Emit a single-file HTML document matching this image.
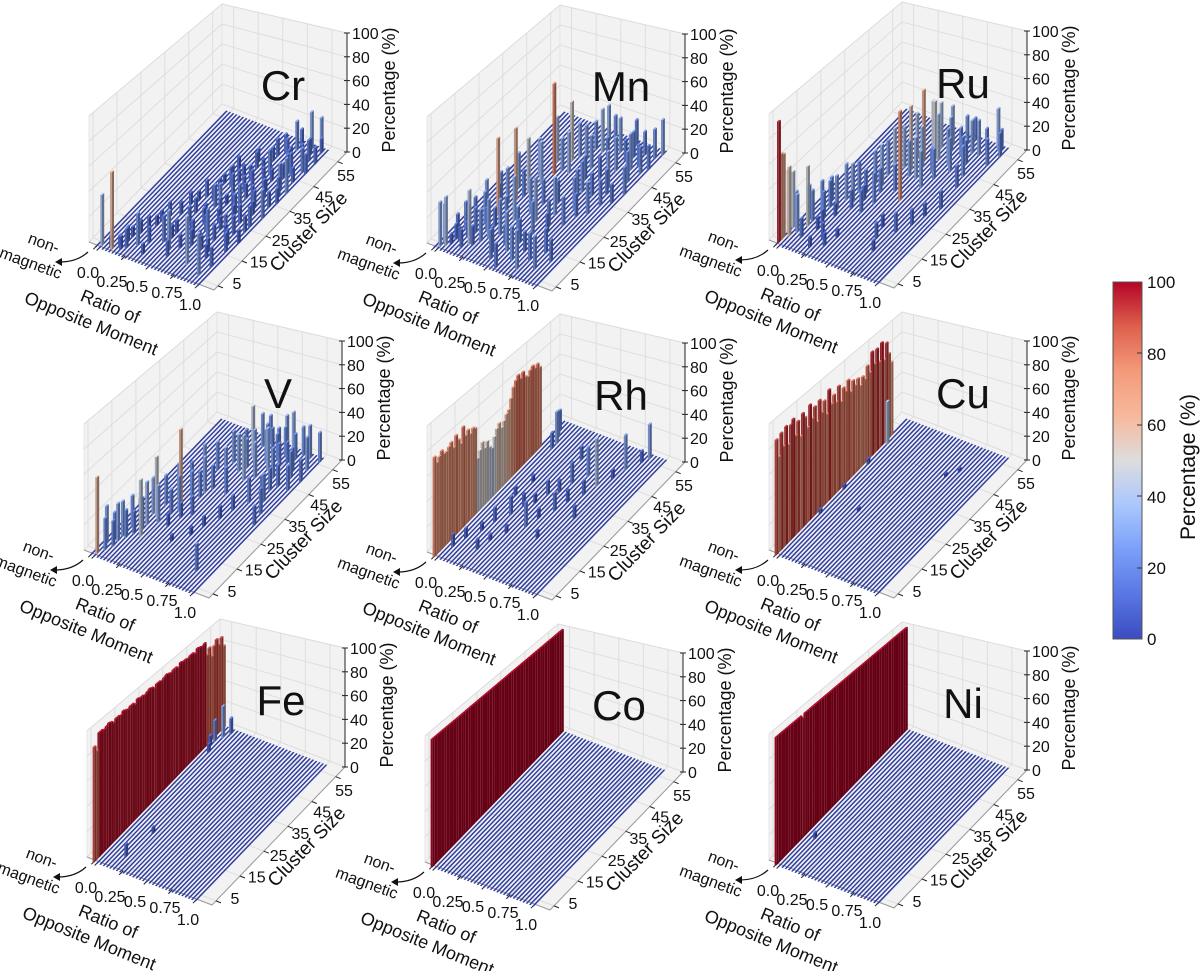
<!DOCTYPE html>
<html><head><meta charset="utf-8">
<style>
html,body{margin:0;padding:0;background:#fff;}
svg{display:block;font-family:"Liberation Sans",Arial,sans-serif;}
</style></head>
<body>
<svg id="fig" width="1200" height="971" viewBox="0 0 1200 971" xmlns="http://www.w3.org/2000/svg">
<defs>
<linearGradient id="cbgrad" x1="0" y1="1" x2="0" y2="0">
<stop offset="0" stop-color="#3b4cc0"/><stop offset="0.125" stop-color="#5977e3"/><stop offset="0.25" stop-color="#7b9ff9"/><stop offset="0.375" stop-color="#aac7fd"/><stop offset="0.5" stop-color="#dddddd"/><stop offset="0.625" stop-color="#f7b89c"/><stop offset="0.75" stop-color="#f49a7b"/><stop offset="0.875" stop-color="#de604d"/><stop offset="1" stop-color="#b40426"/>
</linearGradient>
</defs>
<g>
<rect x="1113" y="282" width="29" height="357" fill="url(#cbgrad)" stroke="#555" stroke-width="1"/>
<g font-size="17" fill="#111">
<text x="1147" y="288">100</text>
<text x="1147" y="360">80</text>
<text x="1147" y="431">60</text>
<text x="1147" y="503">40</text>
<text x="1147" y="574">20</text>
<text x="1147" y="645">0</text>
</g>
<g stroke="#333" stroke-width="1">
<line x1="1137" y1="353" x2="1142" y2="353"/><line x1="1137" y1="425" x2="1142" y2="425"/><line x1="1137" y1="496" x2="1142" y2="496"/><line x1="1137" y1="568" x2="1142" y2="568"/>
</g>
<text x="1195" y="467" font-size="21" fill="#111" text-anchor="middle" transform="rotate(-90 1195 467)">Percentage (%)</text>
</g>
</svg>
<script>
// ---------- data (k = ratio index: 0 = non-magnetic, 1..41 = ratio 0.0..1.0 step 0.025; s = cluster size; v = percentage) ----------
const sizes = [3,4,5,6,7,8,9,10,11,12,13,14,15,16,17,18,19,20,21,22,23,24,25,26,27,28,29,30,31,32,33,34,35,36,37,38,39,40,41,42,43,44,45,46,47,48,49,50,51,52,53,54,55,56,57];
const ratioTicks = ["0.0","0.25","0.5","0.75","1.0"];
const sizeTicks = [5,15,25,35,45,55];
const zTicks = [0,20,40,60,80,100];
const panelNames = ["Cr","Mn","Ru","V","Rh","Cu","Fe","Co","Ni"];

const crBars = [[1,4,40],[5,4,60],[3,5,8],[7,5,10],[9,6,15],[12,8,25],[14,10,12],[16,6,8],[18,12,20],[20,14,10],[22,10,30],[24,8,12],[26,16,15],[28,12,8],[30,18,22],[32,8,35],[34,14,10],[36,20,18],[38,6,30],[40,10,14],[20,24,12],[24,28,18],[26,30,8],[28,26,25],[30,34,12],[32,30,20],[34,38,10],[36,36,15],[38,40,22],[40,44,12],[16,22,10],[18,30,14],[22,36,16],[26,40,12],[30,44,20],[34,48,15],[38,52,18],[40,56,30],[36,56,32],[32,54,25],[28,50,15],[24,46,12],[20,42,10],[41,52,14],[37,46,18],[33,42,10],[29,38,14],[25,34,16],[21,30,10],[39,34,12],[35,26,14],[31,22,10],[27,20,12],[23,18,8],[40,26,16],[38,18,12],[36,12,10],[12,18,8],[10,14,10],[8,10,8],[41,40,28],[39,48,20],[35,52,12],[31,50,18],[27,44,10],[41,30,22],[33,34,12],[29,30,10],
[19,16,10],[21,20,14],[23,24,10],[25,22,12],[27,26,14],[29,24,10],[31,28,16],[33,26,12],[35,32,14],[37,30,10],[39,38,16],[41,36,12],[19,34,8],[21,38,12],[23,40,10],[25,44,14],[27,48,12],[29,52,16],[31,56,14],[33,50,12],[35,46,16],[37,54,14],[39,56,12],[41,48,16],[17,28,8],[15,26,10],[13,20,12],[11,16,8],[9,12,10],[7,8,12],[6,6,8],[25,12,10],[27,14,12],[29,16,8],[31,14,10],[33,18,12],[35,20,10],[37,22,14],[39,24,12],[41,20,10],[40,16,14],[36,44,12],[32,40,14],[28,36,12],[24,38,10],[20,36,8]];
const mnBars = [[1,4,35],[2,5,38],[1,6,30],[4,6,8],[5,8,10],[6,10,12],[7,6,14],[8,12,20],[9,8,42],[10,14,18],[11,10,25],[12,16,15],[13,12,30],[14,18,22],[15,14,28],[16,20,35],[9,20,62],[10,26,60],[14,38,78],[16,44,52],[12,30,45],[18,8,20],[20,6,22],[22,10,30],[24,4,18],[26,8,25],[28,12,15],[30,6,28],[32,10,20],[34,14,18],[36,8,24],[38,12,16],[18,24,28],[20,28,20],[22,22,35],[24,30,18],[26,26,30],[28,34,22],[30,30,25],[32,36,18],[34,40,30],[36,38,20],[38,44,25],[40,48,22],[18,40,35],[20,46,30],[22,50,38],[24,54,25],[26,48,20],[28,52,30],[30,56,22],[32,50,18],[36,54,20],[41,56,30],[6,24,25],[8,30,30],[4,16,18],[2,10,15],[12,42,40],[10,36,32],
[3,8,12],[5,12,20],[7,16,25],[9,24,30],[11,28,22],[13,34,35],[15,40,28],[17,46,30],[19,50,25],[21,54,32],[23,44,28],[25,40,20],[27,36,25],[29,42,18],[31,46,28],[33,52,22],[35,48,30],[37,50,18],[39,54,25],[41,50,20],[19,12,15],[21,16,22],[23,14,18],[25,18,25],[27,22,20],[29,20,15],[31,24,22],[33,28,18],[35,30,25],[37,34,20],[39,36,15],[41,40,22],[6,18,30],[8,22,20],[10,8,15],[4,12,22]];
const ruBars = [[0,4,95],[0,5,68],[0,6,66],[1,7,55],[0,8,50],[0,10,45],[3,12,48],[2,9,30],[4,14,25],[5,8,15],[6,16,22],[8,12,10],[10,6,8],[12,10,12],[14,8,10],[16,12,6],[8,20,28],[10,24,32],[12,28,20],[14,32,35],[16,36,42],[18,40,55],[20,44,62],[22,46,50],[24,30,72],[19,48,45],[21,50,40],[23,52,35],[26,36,30],[28,40,25],[30,44,28],[32,48,22],[34,52,30],[36,54,20],[38,56,35],[40,56,18],[26,20,10],[28,16,12],[30,12,8],[32,20,15],[34,24,12],[36,28,10],[38,32,14],[15,22,18],[17,26,25],[25,42,20],[27,46,30],[29,50,24],[6,28,15],[4,22,20],[20,32,22],[22,38,35],
[1,10,30],[2,14,28],[3,18,25],[5,20,22],[7,24,30],[9,28,25],[11,32,28],[13,36,30],[15,40,35],[17,44,40],[19,38,30],[21,42,35],[23,46,40],[25,50,30],[27,54,25],[29,56,20],[31,52,28],[33,48,20],[35,44,25],[37,40,18],[39,50,22],[41,54,20],[7,14,12],[9,18,10],[11,22,15],[13,26,12],[15,30,20]];
const vBars = [[1,4,60],[12,28,62],[8,22,48],[9,14,45],[20,50,45],[2,6,25],[3,8,20],[4,10,30],[5,12,22],[6,14,18],[7,16,26],[8,18,35],[10,20,30],[11,24,20],[13,26,28],[14,30,25],[15,32,22],[16,34,30],[17,36,20],[18,40,28],[19,44,32],[21,46,25],[22,48,30],[24,52,28],[26,54,22],[28,56,30],[30,50,20],[32,46,25],[34,42,18],[36,38,22],[38,34,20],[40,30,15],[41,56,25],[39,52,28],[37,48,22],[35,44,18],[33,40,15],[31,36,20],[29,32,12],[27,28,10],[25,24,8],[23,20,6],[20,16,5],[36,10,20],[18,26,15],[22,36,22],[26,44,30],[30,56,35],[34,56,25],[24,42,38],[28,48,35],
[1,8,30],[2,10,22],[3,12,28],[4,16,25],[5,18,20],[6,22,30],[7,26,25],[9,30,28],[10,34,22],[11,38,30],[13,42,25],[15,46,28],[17,50,22],[19,54,30],[21,56,25],[23,54,20],[25,50,28],[27,52,22],[29,54,25],[31,52,18],[33,54,22],[35,50,20],[37,56,28],[39,44,20],[41,48,18],[14,20,10],[16,24,12]];
const rhWall = [78,72,75,78,74,74,76,78,72,80,75,70,82,73,76,71,74,72,45,50,55,48,52,45,42,50,55,58,52,56,60,62,70,78,82,85,80,84,78,76,80,82,78,80,75,0,0,0,0,0,0,0,0,0,0];
const rhBars = [[2,8,10],[4,12,8],[6,16,6],[8,20,12],[10,24,15],[12,28,10],[14,30,8],[16,34,12],[18,22,20],[20,26,8],[22,30,15],[24,34,10],[26,38,12],[28,42,40],[30,46,8],[32,50,30],[34,54,10],[36,56,30],[22,44,25],[20,40,18],[18,36,10],[14,18,6],[12,14,5],[10,10,8],[25,20,6],[30,30,10],[16,48,12],[6,30,8],[8,36,6],[3,50,30],[2,52,25],[1,54,20],[4,48,15]];
const cuWall = [90,75,92,80,94,78,92,95,80,90,76,93,88,78,95,82,90,76,92,80,88,75,94,80,86,78,90,75,85,80,88,76,84,78,82,74,80,76,86,78,95,82,94,80,96,78,92,80,70,0,0,0,0,0,0];
const cuBars = [[1,48,40],[12,25,3],[28,45,3],[30,48,3],[1,40,5],[1,30,4],[1,20,4]];
const feWall = [90,85,98,98,97,98,99,98,96,98,98,97,99,98,97,98,98,96,99,98,98,97,98,99,98,96,98,98,97,98,99,98,97,98,98,96,99,98,98,97,98,98,96,99,98,97,98,85,90,80,88,92,85,90,80];
const feBars = [[1,52,20],[2,54,30],[3,56,15],[1,50,10],[8,8,10],[9,18,5],[2,48,8]];
const coWall = [100,100,100,100,100,100,100,100,100,100,100,100,100,100,100,100,100,100,100,100,100,100,100,100,100,100,100,100,100,100,100,100,100,100,100,100,100,100,100,100,100,100,100,100,100,100,100,100,100,100,100,100,100,100,100];
const coBars = [];
const niWall = [100,100,100,100,100,100,100,100,100,100,100,97,100,100,100,100,100,100,100,100,100,100,100,100,100,100,100,100,100,100,100,100,100,100,100,100,100,100,100,100,100,100,100,100,100,100,100,100,100,100,100,100,100,100,100];
const niBars = [[4,15,5]];
const emptyWall = [];

const panelWalls = [emptyWall,emptyWall,emptyWall,emptyWall,rhWall,cuWall,feWall,coWall,niWall];
const panelBars = [crBars,mnBars,ruBars,vBars,rhBars,cuBars,feBars,coBars,niBars];

// ---------- geometry ----------
const NS = "http://www.w3.org/2000/svg";
const svg = document.getElementById('fig');
const corners = [[347,152],[685,153],[1027,150],[342,460],[685,462],[1027,460],[345,767],[683,772],[1027,770]];
const EX = [125,48], EY = [133,-138], ZH = 119;
const NB = 31;               // drawn ratio bins (excluding non-magnetic)
const DU = 0.0262, DV = 0.018, BW = 0.0135, SW = 0.012, BD = 0.0165;
function binOf(k){ return k===0 ? 0 : 1 + Math.round((k-1)*(NB-1)/40); }
function uBin(b){ return 0.067 + b*DU; }
function uOf(k){ return uBin(binOf(k)); }
function vOfSize(s){ return 0.03 + (s-5)*DV; }
function uOfRatio(r){ return 0.067 + (1 + r*(NB-1))*DU; }

const cmapStops = [[0,[59,76,192]],[0.125,[89,119,227]],[0.25,[123,159,249]],[0.375,[170,199,253]],[0.5,[221,221,221]],[0.625,[247,184,156]],[0.75,[244,154,123]],[0.875,[222,96,77]],[1,[180,4,38]]];
function cmap(t){
  t=Math.max(0,Math.min(1,t));
  for(let i=1;i<cmapStops.length;i++){
    if(t<=cmapStops[i][0]){
      const a=cmapStops[i-1],b=cmapStops[i],f=(t-a[0])/(b[0]-a[0]);
      return a[1].map((c,j)=>c+(b[1][j]-c)*f);
    }
  }
  return cmapStops[cmapStops.length-1][1];
}
function rgb(c,m){ return 'rgb('+c.map(x=>Math.round(Math.min(255,x*m))).join(',')+')'; }

function mk(tag, attrs, parent){
  const e=document.createElementNS(NS,tag);
  for(const k in attrs) e.setAttribute(k,attrs[k]);
  parent.appendChild(e); return e;
}

panelNames.forEach((name,pi)=>{
  const C = corners[pi];
  const A = [C[0]-EX[0]-EY[0], C[1]-EX[1]-EY[1]];
  function P(u,v,z){
    const sc = 1.06 + 0.16*u - 0.22*v;
    return [A[0]+u*EX[0]+v*EY[0], A[1]+u*EX[1]+v*EY[1] - z/100*ZH*sc];
  }
  function pts(arr){ return arr.map(p=>{const q=P(p[0],p[1],p[2]);return q[0].toFixed(1)+','+q[1].toFixed(1);}).join(' '); }
  const g = mk('g',{},svg);
  
  

  const pane = {fill:'#f2f2f2', stroke:'#e2e2e2','stroke-width':'0.8'};
  const lw = mk('polygon',Object.assign({points:pts([[0,0,0],[0,1,0],[0,1,100],[0,0,100]])},pane),g);
  
  
  const bw = mk('polygon',Object.assign({points:pts([[0,1,0],[1,1,0],[1,1,100],[0,1,100]])},pane),g);
  
  
  const fl = mk('polygon',Object.assign({points:pts([[0,0,0],[1,0,0],[1,1,0],[0,1,0]])},pane),g);
  
  

  const grid = mk('g',{stroke:'#dcdcdc','stroke-width':'0.9',fill:'none'},g);
  
  
  const uTicks = ratioTicks.map(t=>uOfRatio(parseFloat(t)));
  const vTicks = sizeTicks.map(s=>vOfSize(s));
  uTicks.forEach(u=>{ mk('polyline',{points:pts([[u,0,0],[u,1,0],[u,1,100]])},grid); });
  vTicks.forEach(v=>{ mk('polyline',{points:pts([[1,v,0],[0,v,0],[0,v,100]])},grid); });
  zTicks.forEach(z=>{ mk('polyline',{points:pts([[0,0,z],[0,1,z],[1,1,z]])},grid); });

  const ax = mk('g',{stroke:'#222','stroke-width':'1',fill:'none'},g);
  
  
  mk('polyline',{points:pts([[0,0,0],[1,0,0],[1,1,0]]),stroke:'#999'},ax);
  mk('polyline',{points:pts([[1,1,0],[1,1,100]])},ax);
  [uBin(0)].concat(uTicks).forEach(u=>{ const a=P(u,0,0); mk('line',{x1:a[0],y1:a[1],x2:a[0]-4,y2:a[1]+4},ax); });
  vTicks.forEach(v=>{ const a=P(1,v,0); mk('line',{x1:a[0],y1:a[1],x2:a[0]+5,y2:a[1]+2},ax); });
  zTicks.forEach(z=>{ const a=P(1,1,z); mk('line',{x1:a[0]-3,y1:a[1],x2:a[0]+3,y2:a[1]},ax); });

  const st = mk('g',{fill:'#2e3c9e'},g);
  
  
  const v0 = vOfSize(sizes[0])-BD/2, v1 = vOfSize(sizes[sizes.length-1])+BD/2;
  for(let b=0;b<=NB;b++){
    const u0=uBin(b)-SW/2,u1=u0+SW;
    const sp = mk('polygon',{points:pts([[u0,v0,0],[u1,v0,0],[u1,v1,0],[u0,v1,0]])},st);
    
    
  }

  const list=[];
  panelWalls[pi].forEach((val,i)=>{ if(val>0) list.push([0,sizes[i],val]); });
  panelBars[pi].forEach(b=>list.push(b));
  list.sort((a,b)=>{ const da=48*uOf(a[0])-138*vOfSize(a[1]); const db=48*uOf(b[0])-138*vOfSize(b[1]); return da-db; });
  const bg = mk('g',{},g);
  
  
  list.forEach(b=>{
    const u0=uOf(b[0])-BW/2,u1=u0+BW,vv0=vOfSize(b[1])-BD/2,vv1=vv0+BD,h=b[2];
    const c=cmap(h/100);
    const bar = mk('g',{},bg);
    
    
    mk('polygon',{points:pts([[u1,vv0,0],[u1,vv1,0],[u1,vv1,h],[u1,vv0,h]]),fill:rgb(c,0.55)},bar);
    mk('polygon',{points:pts([[u0,vv0,0],[u1,vv0,0],[u1,vv0,h],[u0,vv0,h]]),fill:rgb(c,0.8)},bar);
    mk('polygon',{points:pts([[u0,vv0,h],[u1,vv0,h],[u1,vv1,h],[u0,vv1,h]]),fill:rgb(c,1.05)},bar);
  });

  const tx = mk('g',{fill:'#111'},g);
  
  
  function T(x,y,str,size,rot,anchor,dn){
    const t=mk('text',{x:x,y:y,'font-size':size,'text-anchor':anchor||'middle'},tx);
    if(rot) t.setAttribute('transform','rotate('+rot+' '+x+' '+y+')');
    t.textContent=str;
    
    
    return t;
  }
  T(C[0]-64, C[1]-52, name, 42, 0, 'middle', 'element-title');
  zTicks.forEach(z=>{ const a=P(1,1,z); T(a[0]+5, a[1]+6, String(z), 16, 0, 'start', 'z-tick-label'); });
  T(C[0]+48, C[1]-62, 'Percentage (%)', 18, -90, 'middle', 'z-axis-title');
  sizeTicks.forEach((s,i)=>{ const f=(s-5)/50; T(C[0]-110+109*f, C[1]+137-108*f, String(s), 16, 0, 'middle', 'size-tick-label'); });
  T(C[0]-34, C[1]+84, 'Cluster Size', 19, -46, 'middle', 'size-axis-title');
  const rOff=[[-259,126],[-235,135],[-210,140],[-180,146],[-157,158]];
  ratioTicks.forEach((r,i)=>{ T(C[0]+rOff[i][0], C[1]+rOff[i][1], r, 16, 0, 'middle', 'ratio-tick-label'); });
  T(C[0]-239, C[1]+160, 'Ratio of', 18, 22, 'middle', 'ratio-axis-title-line1');
  T(C[0]-258, C[1]+177, 'Opposite Moment', 18, 22, 'middle', 'ratio-axis-title-line2');
  T(C[0]-305, C[1]+96, 'non-', 16, 20, 'middle', 'nonmagnetic-label-line1');
  T(C[0]-318, C[1]+116, 'magnetic', 16, 20, 'middle', 'nonmagnetic-label-line2');
  const ar = mk('path',{d:'M'+(C[0]-259)+','+(C[1]+100)+' Q'+(C[0]-270)+','+(C[1]+110)+' '+(C[0]-287)+','+(C[1]+110),stroke:'#111','stroke-width':'1.2',fill:'none'},g);
  
  
  const ah = mk('polygon',{points:(C[0]-292)+','+(C[1]+110)+' '+(C[0]-285)+','+(C[1]+106)+' '+(C[0]-285)+','+(C[1]+114),fill:'#111'},g);
  
  
});
</script>
</body></html>
